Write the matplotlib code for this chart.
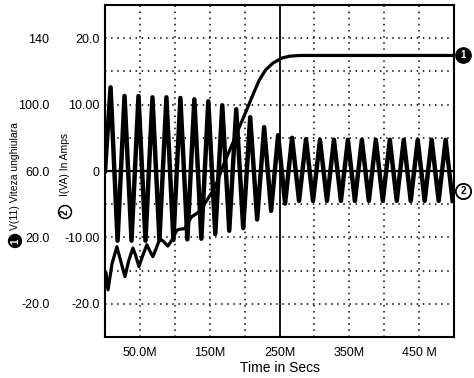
import numpy as np
import matplotlib
matplotlib.use("Agg")
import matplotlib.pyplot as plt

plt.rcParams['font.family'] = ['Liberation Sans', 'DejaVu Sans']

# curve 1: V(11) Viteza unghiulara (outer left axis)
speed_t = [0, 1.4, 4.3, 10, 17, 23, 28.6, 34, 40, 44, 48.6, 54, 60, 64, 68.6, 73, 78.6, 84, 90,
           96, 103, 108, 114, 119, 124, 128, 133, 140, 146, 153, 160, 170, 183, 193, 203,
           212, 221, 230, 240, 253, 265, 279, 500]
speed_v = [-1.0, -1.2, -11.6, 4.0, 14.4, 5.0, -3.6, 6.0, 13.6, 9.0, 2.4, 9.0, 15.6, 12.0, 8.4, 13.0, 19.2,
           17.5, 14.8, 18.5, 24.4, 25.0, 25.2, 29.0, 32.4, 33.5, 34.8, 38.5, 42.4, 47.0, 52.8, 64.0,
           76.8, 87.0, 96.8, 106.0, 114.8, 120.8, 124.8, 128.0, 129.2, 129.6, 129.6]

# curve 2: I(VA) current (inner left axis), peaks and troughs
peak_t = [8, 28, 48, 68, 88, 108, 128, 148, 168, 188, 208, 228, 248, 268, 288, 308, 328,
          348, 368, 388, 408, 428, 448, 468, 488]
peak_v = [12.6, 11.3, 11.3, 11.1, 11.1, 11.0, 10.8, 10.5, 9.9, 9.3, 8.1, 6.6, 5.4, 5.0,
          4.8, 4.7, 4.7, 4.7, 4.7, 4.7, 4.7, 4.7, 4.7, 4.7, 4.7]
trough_t = [18, 38, 58, 78, 98, 118, 138, 158, 178, 198, 218, 238, 258, 278, 298, 318, 338,
            358, 378, 398, 418, 438, 458, 478, 498]
trough_v = [-10.5, -10.5, -10.5, -10.4, -10.4, -10.3, -10.2, -9.5, -9.0, -8.6, -7.3, -6.0,
            -4.9, -4.5, -4.5, -4.5, -4.5, -4.5, -4.5, -4.5, -4.5, -4.5, -4.5, -4.5, -4.5]

cur_ticks = [20, 10, 0, -10, -20]
cur_labels = ["20.0", "10.00", "0", "-10.00", "-20.0"]
spd_ticks = [140, 100, 60, 20, -20]
spd_labels = ["140", "100.0", "60.0", "20.0", "-20.0"]
x_ticks = [50, 150, 250, 350, 450]
x_labels = ["50.0M", "150M", "250M", "350M", "450 M"]

cur_t = np.ravel(np.column_stack([peak_t, trough_t]))
cur_v = np.ravel(np.column_stack([peak_v, trough_v]))
cur_t = np.concatenate([[0], cur_t])
cur_v = np.concatenate([[0], cur_v])

fig = plt.figure(figsize=(4.74, 3.78), dpi=100)
ax = fig.add_axes([105/474, 41/378, 349/474, 332/378])
ax.set_xlim(0, 500)
ax.set_ylim(-25, 25)

# dotted grid
for gx in range(50, 500, 50):
    if gx != 250:
        ax.axvline(gx, color='black', lw=1.1, ls=(0, (1, 3)), zorder=1)
for gy in range(-20, 25, 5):
    if gy != 0:
        ax.axhline(gy, color='black', lw=1.1, ls=(0, (1, 3)), zorder=1)
ax.axvline(250, color='black', lw=1.3, zorder=1)
ax.axhline(0, color='black', lw=1.6, zorder=1)

ax.plot(cur_t, cur_v, color='black', lw=3.2, solid_joinstyle='round', zorder=3)

ax.set_xticks(x_ticks)
ax.set_xticklabels(x_labels)
ax.set_yticks(cur_ticks)
ax.set_yticklabels(cur_labels)
ax.tick_params(axis='both', length=0, labelsize=9)
ax.tick_params(axis='x', pad=7)
ax.tick_params(axis='y', pad=4)
for s in ax.spines.values():
    s.set_linewidth(1.5)

ax2 = ax.twinx()
ax2.set_ylim(-40, 160)
ax2.plot(speed_t, speed_v, color='black', lw=2.3, zorder=4)
ax2.yaxis.set_ticks_position('left')
ax2.yaxis.set_label_position('left')
ax2.spines['left'].set_position(('outward', 38))
for s in ax2.spines.values():
    s.set_visible(False)
ax2.set_yticks(spd_ticks)
ax2.set_yticklabels(spd_labels)
ax2.tick_params(axis='y', length=0, labelsize=9, pad=2)

# end markers at right
ax2.plot([513], [speed_v[-1]], marker='o', ms=11, color='black', clip_on=False, zorder=5)
ax2.text(513, speed_v[-1], "1", color='white', fontsize=7, fontweight='bold',
         ha='center', va='center', clip_on=False, zorder=6)
ax.plot([513], [-3], marker='o', ms=11, mfc='white', mec='black', mew=1.3, clip_on=False, zorder=5)
ax.text(513, -3, "2", color='black', fontsize=7, fontweight='bold',
        ha='center', va='center', clip_on=False, zorder=6)

ax.set_xlabel("Time in Secs", fontsize=10, labelpad=2)

# rotated axis titles with circled numbers
fig.text(15/474, 1 - 176/378, "V(11) Viteza unghiulara", rotation=90, fontsize=7.5,
         ha='center', va='center')
fig.text(15/474, 1 - 241/378, "1", rotation=90, fontsize=7, fontweight='bold', color='white',
         ha='center', va='center', zorder=6,
         bbox=dict(boxstyle='circle,pad=0.15', fc='black', ec='black'))
fig.text(65/474, 1 - 164/378, "I(VA) In Amps", rotation=90, fontsize=7.5,
         ha='center', va='center')
fig.text(65/474, 1 - 212/378, "2", rotation=90, fontsize=7, fontweight='bold', color='black',
         ha='center', va='center', zorder=6,
         bbox=dict(boxstyle='circle,pad=0.15', fc='white', ec='black', lw=1.1))

fig.savefig("out.png", dpi=100)
